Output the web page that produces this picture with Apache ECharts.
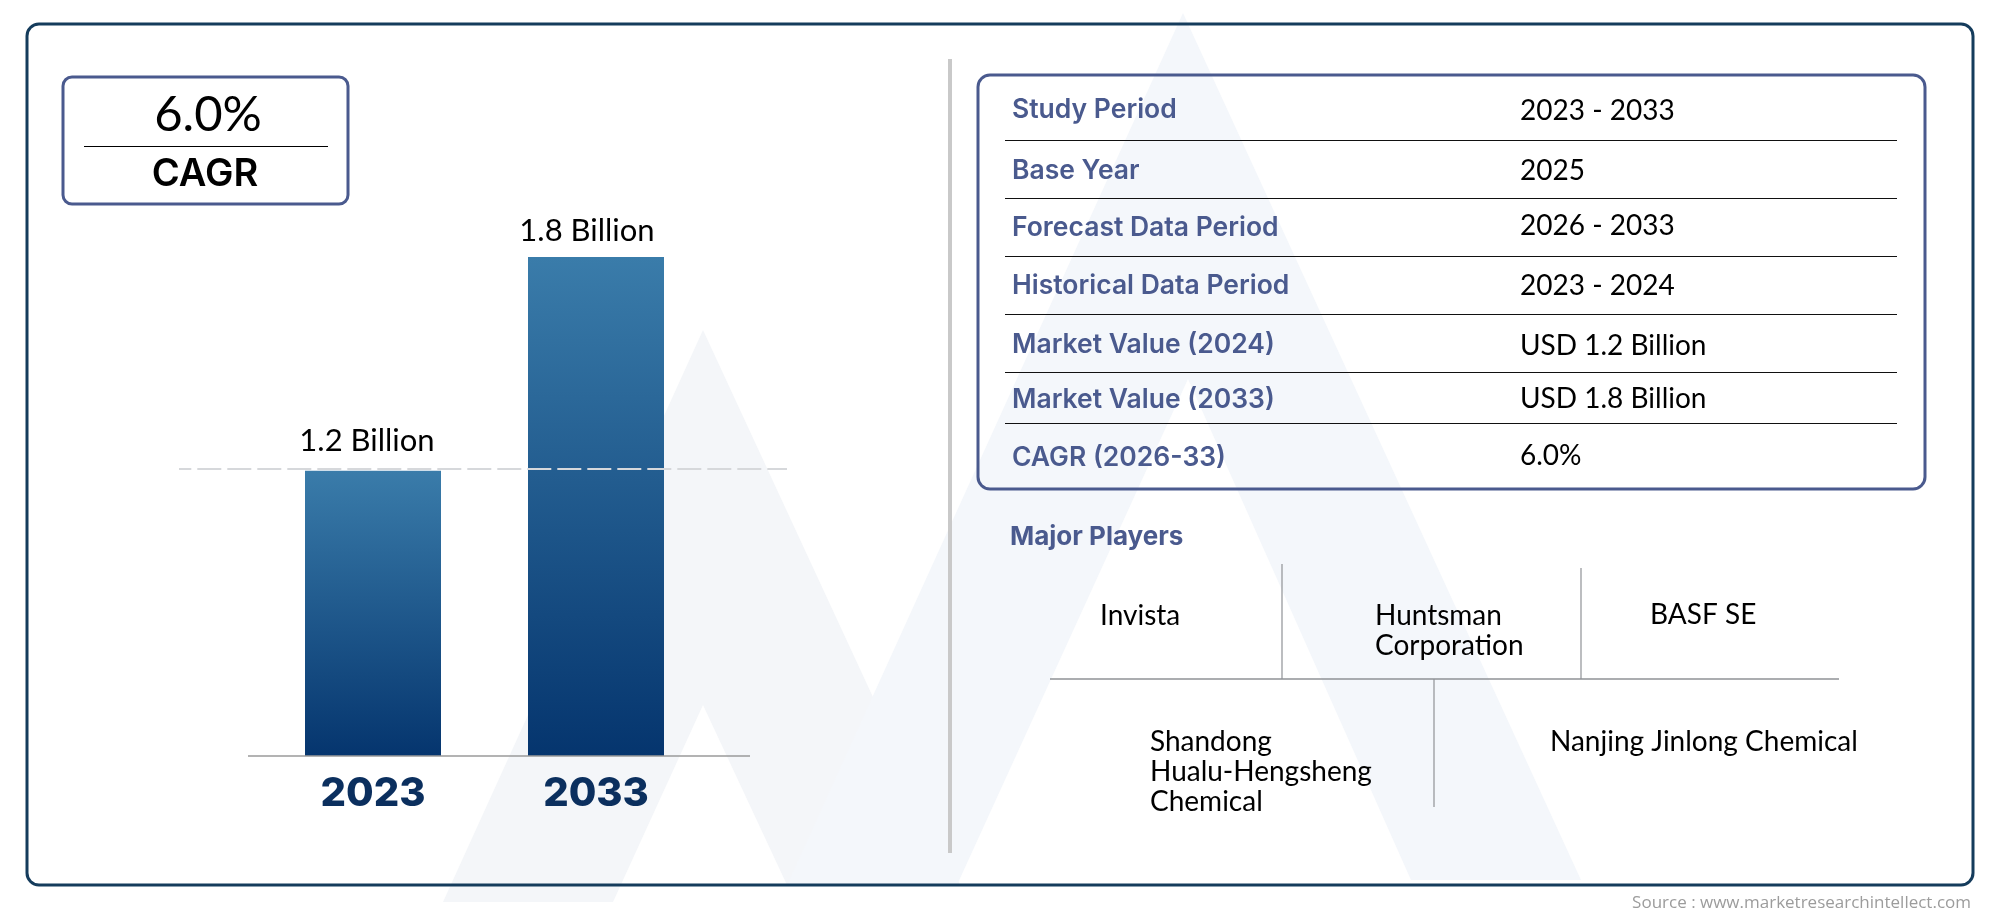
<!DOCTYPE html>
<html>
<head>
<meta charset="utf-8">
<title>Market size</title>
<script src="https://cdn.jsdelivr.net/npm/echarts@6/dist/echarts.min.js"></script>
<style>
  html,body{margin:0;padding:0;background:#fff;}
  #main{width:2000px;height:917px;}
</style>
</head>
<body>
<div id="main"></div>
<script>
var years = ['2023', '2033'];
var marketValues = [1.2, 1.8];
var cagrText = '6.0%';
var tableLabels = ['Study Period', 'Base Year', 'Forecast Data Period', 'Historical Data Period', 'Market Value (2024)', 'Market Value (2033)', 'CAGR (2026-33)'];
var tableValues = ['2023 - 2033', '2025', '2026 - 2033', '2023 - 2024', 'USD 1.2 Billion', 'USD 1.8 Billion', '6.0%'];
var playerLines = [['Invista'], ['Huntsman', 'Corporation'], ['BASF SE'], ['Shandong', 'Hualu-Hengsheng', 'Chemical'], ['Nanjing Jinlong Chemical']];
var sourceText = 'Source : www.marketresearchintellect.com';

var NAVY = '#153c5c', SLATE = '#4a5a8e', LIGHT_FONT = 'Lato', BOLD_FONT = 'Inter';

// layout of the right hand side, pixels of the page
var labelY = [110, 171, 228, 286, 345, 400, 458];
var valueY = [111, 171, 226, 286, 346, 399, 456];
var ruleY = [140, 198, 256, 314, 372, 423];
var playerX = [1100, 1375, 1650, 1150, 1550];
var playerY = [616, 616, 615, 742, 742];
var labelOffsets = [[-6, -4], [-9, -1]];

var els = [];
function txt(x, y, s, font, size, color, weight, align) {
  els.push({type: 'text', x: x, y: y, z: 10, silent: true, style: {
    text: s, fontFamily: font, fontSize: size, fill: color, fontWeight: weight || 400,
    align: align || 'left', verticalAlign: 'middle'
  }});
}
function line(x1, y1, x2, y2, color, w) {
  els.push({type: 'line', z: 10, silent: true, shape: {x1: x1, y1: y1, x2: x2, y2: y2}, style: {stroke: color, lineWidth: w}});
}
function box(x, y, w, h, r, color, lw) {
  els.push({type: 'rect', z: 1, silent: true, shape: {x: x, y: y, width: w, height: h, r: r}, style: {fill: 'none', stroke: color, lineWidth: lw}});
}
function poly(points, fill) {
  els.push({type: 'polygon', z: 0, silent: true, shape: {points: points}, style: {fill: fill}});
}

//背景水印
poly([[703, 330], [443, 902], [613, 902], [703, 705], [787, 885], [960, 885]], '#f4f6f9');
poly([[1183, 13], [787, 885], [957, 885], [1188, 379], [1411, 880], [1581, 880]], '#f4f7fb');

box(27, 24, 1946, 861, 12, NAVY, 3);
box(63, 77, 285, 127, 9, SLATE, 3);
box(978, 75, 947, 414, 12, SLATE, 3);

// CAGR box
txt(208, 115, cagrText, LIGHT_FONT, 49, '#000', 400, 'center');
line(84, 146.5, 328, 146.5, '#000', 1);
txt(205, 175, 'CAGR', BOLD_FONT, 38, '#000', 600, 'center');

// divider
line(950, 59, 950, 853, '#c9c9c9', 4);

// table
tableLabels.forEach(function (s, i) {
  txt(1012, labelY[i], s, BOLD_FONT, 26.5, SLATE, 600);
  txt(1520, valueY[i], tableValues[i], LIGHT_FONT, 28, '#000');
});
ruleY.forEach(function (y) {
  line(1005, y + 0.5, 1897, y + 0.5, '#111', 1.2);
});

// major players
txt(1010, 537, 'Major Players', BOLD_FONT, 26, SLATE, 700);
line(1050, 679, 1839, 679, '#8f9296', 1.5);
line(1282, 564, 1282, 679, '#8f9296', 1.2);
line(1581, 568, 1581, 679, '#8f9296', 1.2);
line(1434, 679, 1434, 807, '#8f9296', 1.2);
playerLines.forEach(function (rows, i) {
  rows.forEach(function (s, j) {
    txt(playerX[i], playerY[i] + j * 30, s, LIGHT_FONT, 28, '#000');
  });
});

txt(1971, 903, sourceText, 'Open Sans', 17, '#9c9c9c', 400, 'right');

var myChart = echarts.init(document.getElementById('main'), null, {renderer: 'canvas'});
myChart.setOption({
  animation: false,
  backgroundColor: '#fff',
  graphic: {elements: els},
  grid: {left: 261.5, width: 446, top: 257, bottom: 161},
  xAxis: {
    type: 'category',
    data: years,
    axisLine: {show: false},
    axisTick: {show: false},
    axisLabel: {
      margin: 18,
      fontFamily: BOLD_FONT,
      fontWeight: 800,
      fontSize: 40,
      color: '#0b2f5e'
    }
  },
  yAxis: {
    type: 'value',
    min: 0.4,
    max: 1.8,
    show: false
  },
  series: [{
    type: 'bar',
    z: 3,
    barWidth: 136,
    data: marketValues.map(function (v, i) {
      return {value: v, label: {offset: labelOffsets[i]}};
    }),
    itemStyle: {
      color: new echarts.graphic.LinearGradient(0, 0, 0, 1, [
        {offset: 0, color: '#3a7caa'},
        {offset: 1, color: '#05356e'}
      ])
    },
    label: {
      show: true,
      position: 'top',
      distance: 10,
      fontFamily: LIGHT_FONT,
      fontSize: 31,
      color: '#000',
      formatter: function (p) {
        return p.value.toFixed(1) + ' Billion';
      }
    },
    markLine: {
      silent: true,
      symbol: 'none',
      label: {show: false},
      animation: false,
      data: [
        [{x: 179, yAxis: 1.205, lineStyle: {color: '#d6d8db', width: 2, type: [24, 6], dashOffset: 11.7}}, {x: 787, yAxis: 1.205}],
        [{x: 248, yAxis: 0.4, lineStyle: {color: '#9a9a9a', width: 1.5, type: 'solid'}}, {x: 750, yAxis: 0.4}]
      ]
    }
  }]
});
</script>
</body>
</html>
